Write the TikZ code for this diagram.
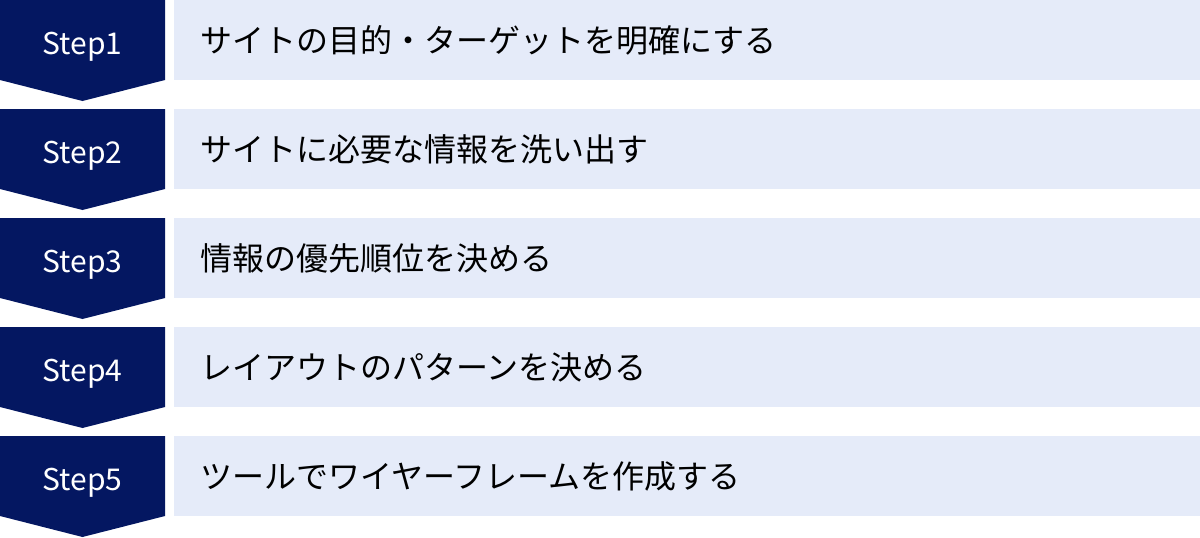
\documentclass[tikz,border=0pt]{standalone}
\usepackage{fontspec}
\setmainfont{Noto Sans CJK JP}
\definecolor{stepnavy}{HTML}{041761}
\definecolor{tasklight}{HTML}{E5EBF9}
\tikzset{
  stepmark/.style={fill=stepnavy},
  steplabel/.style={text=white,font=\fontsize{30}{34}\selectfont,inner sep=0pt,anchor=base},
  taskbox/.style={fill=tasklight,minimum width=1026pt,minimum height=80pt,
    text width=974pt,align=left,inner xsep=26pt,inner ysep=0pt,
    font=\fontsize{32}{36}\selectfont,anchor=north west},
}
\begin{document}
\begin{tikzpicture}[x=1pt,y=-1pt]
  \useasboundingbox (0,0) rectangle (1200,538);
  \fill[stepmark] (0,0) -- (165,0) -- (165,80) -- (82.5,101) -- (0,80) -- cycle;
  \fill[stepmark] (0,109) -- (165,109) -- (165,189) -- (82.5,210) -- (0,189) -- cycle;
  \fill[stepmark] (0,218) -- (165,218) -- (165,298) -- (82.5,319) -- (0,298) -- cycle;
  \fill[stepmark] (0,327) -- (165,327) -- (165,407) -- (82.5,428) -- (0,407) -- cycle;
  \fill[stepmark] (0,436) -- (165,436) -- (165,516) -- (82.5,537) -- (0,516) -- cycle;
  \draw
    (82.5,54) node[steplabel] (s1){Step1}
    (82.5,163) node[steplabel] (s2){Step2}
    (82.5,272) node[steplabel] (s3){Step3}
    (82.5,381) node[steplabel] (s4){Step4}
    (82.5,490) node[steplabel] (s5){Step5};
  \draw
    (174,0) node[taskbox] (t1){サイトの目的・ターゲットを明確にする}
    (174,109) node[taskbox] (t2){サイトに必要な情報を洗い出す}
    (174,218) node[taskbox] (t3){情報の優先順位を決める}
    (174,327) node[taskbox] (t4){レイアウトのパターンを決める}
    (174,436) node[taskbox] (t5){ツールでワイヤーフレームを作成する};
\end{tikzpicture}
\end{document}
